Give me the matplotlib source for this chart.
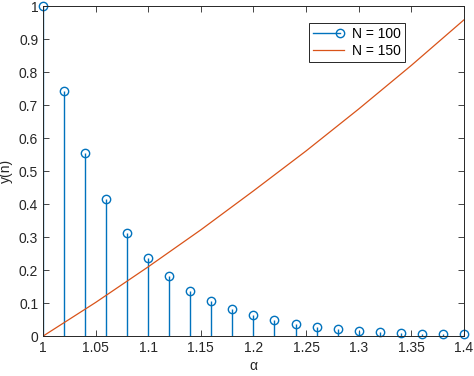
import numpy as np
import matplotlib
matplotlib.use('Agg')
import matplotlib.pyplot as plt
from matplotlib.legend_handler import HandlerLine2D
from matplotlib.lines import Line2D

# stem series (N = 100)
alpha_stem = [1.00, 1.02, 1.04, 1.06, 1.08, 1.10, 1.12, 1.14, 1.16, 1.18, 1.20,
              1.22, 1.24, 1.26, 1.28, 1.30, 1.32, 1.34, 1.36, 1.38, 1.40]
y_stem = [1.000, 0.742, 0.555, 0.416, 0.313, 0.237, 0.181, 0.138, 0.107, 0.082, 0.064,
          0.048, 0.037, 0.029, 0.022, 0.017, 0.013, 0.010, 0.008, 0.006, 0.005]

# line series (N = 150)
alpha_line = [1.00, 1.05, 1.10, 1.15, 1.20, 1.25, 1.30, 1.35, 1.40]
y_line = [0.000, 0.102, 0.210, 0.322, 0.440, 0.561, 0.688, 0.820, 0.958]

xticks = [1, 1.05, 1.1, 1.15, 1.2, 1.25, 1.3, 1.35, 1.4]
xticklabels = ['1', '1.05', '1.1', '1.15', '1.2', '1.25', '1.3', '1.35', '1.4']
yticks = [0, 0.1, 0.2, 0.3, 0.4, 0.5, 0.6, 0.7, 0.8, 0.9, 1]
yticklabels = ['0', '0.1', '0.2', '0.3', '0.4', '0.5', '0.6', '0.7', '0.8', '0.9', '1']

blue = '#0072BD'
orange = '#D95319'

plt.rcParams['font.family'] = ['Liberation Sans', 'DejaVu Sans']
plt.rcParams['font.size'] = 10

fig = plt.figure(figsize=(4.74, 3.76), dpi=100)
ax = fig.add_axes([0.0907, 0.106, 0.888, 0.878])

markerline, stemlines, baseline = ax.stem(alpha_stem, y_stem, basefmt=' ')
markerline.set_color(blue)
markerline.set_markerfacecolor('none')
markerline.set_markersize(6)
markerline.set_markeredgewidth(1.0)
markerline.set_clip_on(False)
stemlines.set_color(blue)
stemlines.set_linewidth(1.0)

ax.plot(alpha_line, y_line, color=orange, linewidth=0.9)

ax.set_xlim(1, 1.4)
ax.set_ylim(0, 1)
ax.set_xticks(xticks)
ax.set_xticklabels(xticklabels)
ax.set_yticks(yticks)
ax.set_yticklabels(yticklabels)
ax.tick_params(direction='in', length=4, width=0.6, top=True, right=True,
               colors='#262626', labelsize=10)
for s in ax.spines.values():
    s.set_linewidth(0.7)
    s.set_color('#262626')

ax.set_xlabel('α', fontsize=10, color='#262626', labelpad=3)
ax.set_ylabel('y(n)', fontsize=10, color='#262626', labelpad=4)


# legend entry like matlab stem: line with marker at right end
class StemHandler(HandlerLine2D):
    def create_artists(self, legend, orig_handle, xdescent, ydescent, width, height,
                       fontsize, trans):
        arts = super().create_artists(legend, orig_handle, xdescent, ydescent, width,
                                      height, fontsize, trans)
        ln = arts[0]
        xd = np.asarray(ln.get_xdata(), dtype=float)
        ln.set_xdata(np.linspace(xd[0], xd[-1] - 3, len(xd)))
        ln.set_markevery([len(xd) - 1])
        return arts


h1 = Line2D([], [], color=blue, marker='o', markerfacecolor='none', markersize=6,
            linewidth=1.0)
h2 = Line2D([], [], color=orange, linewidth=0.9)
leg = ax.legend([h1, h2], ['N = 100', 'N = 150'], loc='upper left',
                bbox_to_anchor=(0.632, 0.948), borderaxespad=0, fancybox=False,
                framealpha=1, edgecolor='#262626', handlelength=2.2,
                handler_map={h1: StemHandler()}, borderpad=0.3, labelspacing=0.2,
                handletextpad=0.6)
leg.get_frame().set_linewidth(0.7)

fig.savefig('out.png', dpi=100)
